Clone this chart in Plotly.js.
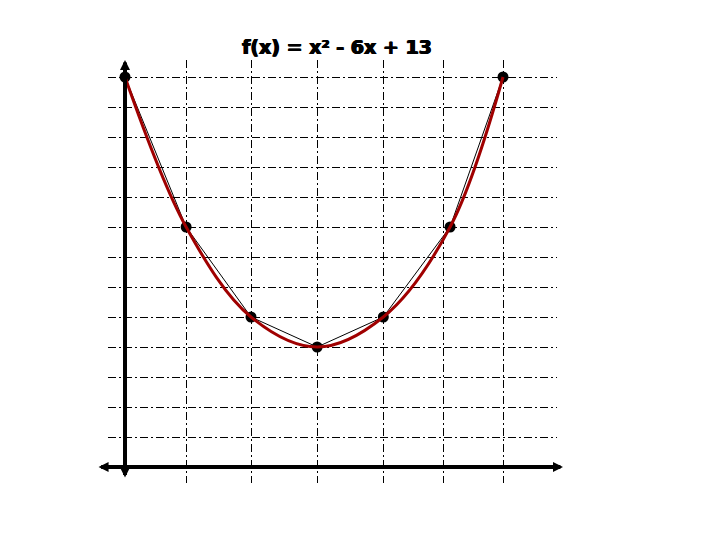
<!DOCTYPE html>
<html>
<head>
<meta charset="utf-8">
<script src="https://cdn.plot.ly/plotly-3.0.1.min.js"></script>
<style>html,body{margin:0;padding:0;background:#fff;}#chart{width:720px;height:540px;}</style>
</head>
<body>
<div id="chart"></div>
<script>
// Data
var titleText = 'f(x) = x² - 6x + 13';
var pointX = [0, 0.97, 2, 3.05, 4.1, 5.16, 6];
var pointY = [13, 8, 5, 4, 5, 8, 13];
var gridX = [0.97, 2, 3.05, 4.1, 5.05, 6];
var gridY = [1, 2, 3, 4, 5, 6, 7, 8, 9, 10, 11, 12, 13];

// Layout geometry
var xRange = [-0.27, 6.857];
var yRange = [-0.533, 13.567];
var xArrowEnds = [-0.444, 6.952];
var yArrowEnds = [-0.4, 13.567];

function toPaper(v, r) { return (v - r[0]) / (r[1] - r[0]); }
var plotW = 720 - 108 - 163, plotH = 540 - 60 - 57;

var traces = [
  {
    x: pointX, y: pointY, type: 'scatter', mode: 'lines+markers',
    line: {color: '#000000', width: 1},
    marker: {color: '#000000', size: 11},
    cliponaxis: false, hoverinfo: 'skip'
  },
  {
    x: pointX, y: pointY, type: 'scatter', mode: 'lines',
    line: {color: '#A00000', width: 3, shape: 'spline', smoothing: 1},
    cliponaxis: false, hoverinfo: 'skip'
  }
];

var x0p = toPaper(0, xRange), y0p = toPaper(0, yRange);
var annotations = [
  { // horizontal axis with arrows at both ends
    xref: 'paper', yref: 'paper',
    x: toPaper(xArrowEnds[1], xRange), y: y0p,
    ax: -(xArrowEnds[1] - xArrowEnds[0]) / (xRange[1] - xRange[0]) * plotW, ay: 0,
    text: '', showarrow: true, arrowside: 'end+start', arrowhead: 2, startarrowhead: 2,
    arrowsize: 0.5, startarrowsize: 0.5, arrowwidth: 4, arrowcolor: '#000000',
    standoff: 0, startstandoff: 0
  },
  { // vertical axis with arrows at both ends
    xref: 'paper', yref: 'paper',
    x: x0p, y: toPaper(yArrowEnds[1], yRange),
    ax: 0, ay: (yArrowEnds[1] - yArrowEnds[0]) / (yRange[1] - yRange[0]) * plotH,
    text: '', showarrow: true, arrowside: 'end+start', arrowhead: 2, startarrowhead: 2,
    arrowsize: 0.5, startarrowsize: 0.5, arrowwidth: 4, arrowcolor: '#000000',
    standoff: 0, startstandoff: 0
  }
];

var layout = {
  width: 720, height: 540,
  paper_bgcolor: '#ffffff', plot_bgcolor: '#ffffff',
  margin: {l: 108, r: 163, t: 60, b: 57, pad: 0},
  showlegend: false,
  title: {
    text: titleText,
    font: {family: 'DejaVu Sans', size: 19, color: '#000000', weight: 'bold',
           shadow: '0.7px 0 0 #000000, -0.7px 0 0 #000000, 0 0.5px 0 #000000'},
    x: 337 / 720, xanchor: 'center', xref: 'container',
    y: 1 - 47 / 540, yanchor: 'middle', yref: 'container'
  },
  xaxis: {
    range: xRange, tickmode: 'array', tickvals: gridX, showticklabels: false, ticks: '',
    showgrid: true, gridcolor: '#000000', gridwidth: 1, griddash: '8px,3px,2px,3px',
    zeroline: false, showline: false, fixedrange: true
  },
  yaxis: {
    range: yRange, tickmode: 'array', tickvals: gridY, showticklabels: false, ticks: '',
    showgrid: true, gridcolor: '#000000', gridwidth: 1, griddash: '8px,3px,2px,3px',
    zeroline: false, showline: false, fixedrange: true
  },
  annotations: annotations
};

Plotly.newPlot('chart', traces, layout, {staticPlot: true, displayModeBar: false});
</script>
</body>
</html>
